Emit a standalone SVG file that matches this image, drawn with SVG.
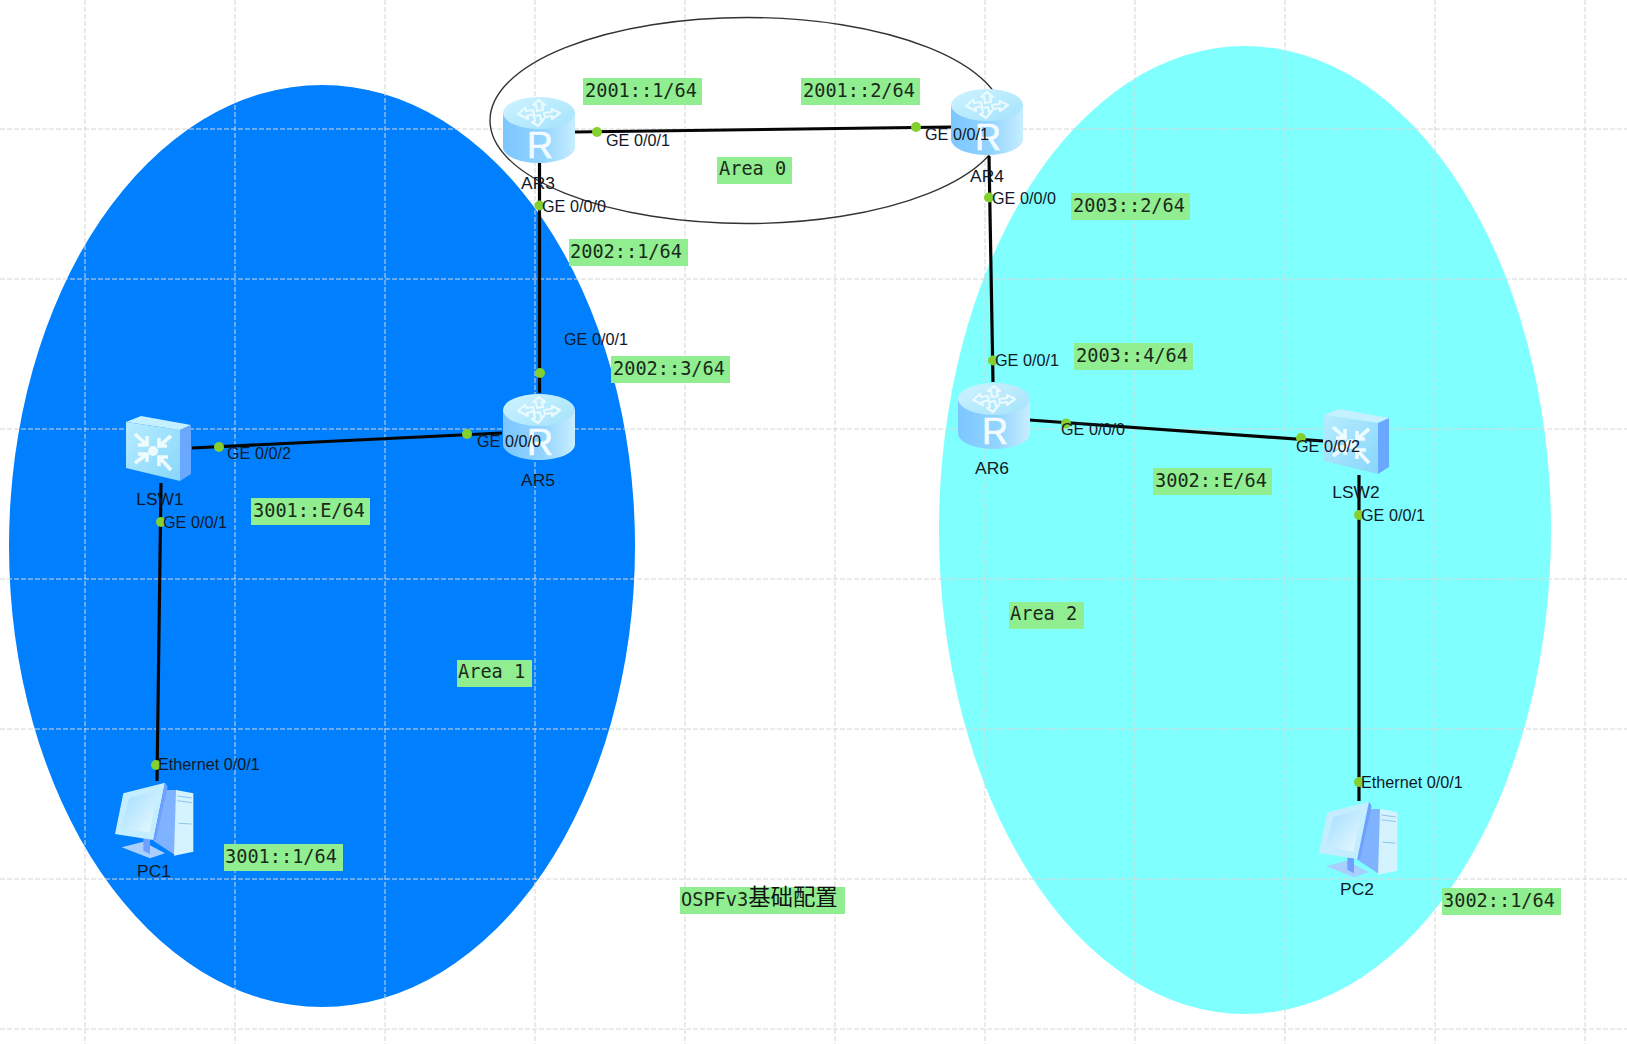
<svg xmlns="http://www.w3.org/2000/svg" width="1627" height="1044" viewBox="0 0 1627 1044">
<style>
.grid{stroke:#d6d6d6;stroke-width:1;stroke-dasharray:5 2;fill:none}
.link{stroke:#050505;stroke-width:3.2;fill:none}
.dot{fill:#84d02e}
.port{font:16.2px "Liberation Sans",Arial,sans-serif;fill:#101828}
.name{font:17.4px "Liberation Sans",Arial,sans-serif;fill:#101828;text-anchor:middle}
.tagbox{fill:#90ee90}
.tag{font:18.6px "DejaVu Sans Mono","Liberation Mono",monospace;fill:#1a2a1a}
.cjk{font:22.4px "Noto Sans CJK SC",sans-serif;fill:#101010}
.arrows{fill:none;stroke:#eafaff;stroke-width:2.2;stroke-linejoin:round}
.rletter{font:36px "Liberation Sans",Arial,sans-serif;fill:#f2fbff;stroke:#f2fbff;stroke-width:.7;text-anchor:middle}
</style>
<defs>
<linearGradient id="cyl" x1="0" x2="1" y1="0" y2="0"><stop offset="0" stop-color="#7cc6ff"/><stop offset=".55" stop-color="#92d4ff"/><stop offset="1" stop-color="#c8eeff"/></linearGradient>
<linearGradient id="cap" x1="0" x2="1" y1="0" y2="1"><stop offset="0" stop-color="#cff3ff"/><stop offset="1" stop-color="#a4e2fb"/></linearGradient>
<linearGradient id="face" x1="0" x2="1" y1="0" y2="1"><stop offset="0" stop-color="#b6ecff"/><stop offset="1" stop-color="#88d6fb"/></linearGradient>
<linearGradient id="scr" x1="0" x2="1" y1="0" y2="1"><stop offset="0" stop-color="#9fdcff"/><stop offset="1" stop-color="#eafaff"/></linearGradient>
<g id="router">
<path d="M0 16V50C0 59 16 66 36 66S72 59 72 50V16Z" fill="url(#cyl)"/>
<ellipse cx="36" cy="16" rx="36" ry="16" fill="url(#cap)"/>
<path class="arrows" d="M36 3l6 5h-3l1 5-6 1-1-6h-3zM15 17l7-6 1 3 7-1 1 4-7 2 1 3zM57 16l-8-4v3l-8 1 1 4 7-1v3zM35 29l-6-4 3-1-1-5 6-1 1 5 3-1z"/>
<text class="rletter" x="37" y="61">R</text>
</g>
<g id="switch">
<path d="M0 6L15 0 65 9 54 14Z" fill="#c4f0ff"/>
<path d="M54 14L65 9V58L54 65Z" fill="#6aa8ff"/>
<path d="M0 6L54 14V65L0 52Z" fill="url(#face)"/>
<path fill="none" stroke="#eefcff" stroke-width="3.6" d="M9 18L21 29M21 20V29H12M45 20L33 30M33 22V30H41M9 47L21 38M12 38H21V46M45 54L33 41M33 50V41H42"/>
<circle cx="27" cy="35" r="5" fill="#eefcff"/>
</g>
<g id="pc" transform="scale(.3333)">
<path d="M195 150H232L225 345 160 302Z" fill="#7fb2ff"/>
<path d="M228 150L280 160V335L222 347Z" fill="#d4f3ff"/>
<path d="M232 168L276 174M232 182L276 188M236 250L274 252" stroke="#8cc4ef" stroke-width="3" fill="none"/>
<path d="M65 322L130 305 195 340 150 355Z" fill="#a9cfff"/>
<path d="M130 295H150V343L130 332Z" fill="#6f9fff"/>
<path d="M70 160L195 128 160 300 45 282Z" fill="#c4edff"/>
<path d="M195 128L203 140 168 300H160Z" fill="#6ea0ff"/>
<path d="M88 175L175 150 148 278 65 262Z" fill="url(#scr)"/>
</g>
</defs>

<g id="areas">
<ellipse cx="322" cy="546" rx="313" ry="461" fill="#0080ff"/>
<ellipse cx="1245" cy="530" rx="306" ry="484" fill="#80ffff"/>
</g>
<g id="gridlines">
<path class="grid" d="M85 0V1044M235 0V1044M385 0V1044M535 0V1044M685 0V1044M835 0V1044M985 0V1044M1135 0V1044M1285 0V1044M1435 0V1044M1585 0V1044"/>
<path class="grid" d="M0 129H1627M0 279H1627M0 429H1627M0 579H1627M0 729H1627M0 879H1627M0 1029H1627"/>
</g>
<ellipse id="area0-outline" cx="747" cy="120.500" rx="257" ry="103" fill="none" stroke="#333" stroke-width="1.4"/>

<g id="connectors">
<path class="link" d="M575 132L951 127"/>
<path class="link" d="M539.500 163V393"/>
<path class="link" d="M989 156L993 382"/>
<path class="link" d="M502 433L192 448"/>
<path class="link" d="M1029 420L1323 441"/>
<path class="link" d="M161 483L157 781"/>
<path class="link" d="M1359 475V801"/>
<circle class="dot" cx="597" cy="132" r="5"/>
<circle class="dot" cx="916" cy="127" r="5"/>
<circle class="dot" cx="539.500" cy="205.500" r="5"/>
<circle class="dot" cx="989" cy="197.500" r="5"/>
<circle class="dot" cx="540" cy="373" r="5"/>
<circle class="dot" cx="993" cy="360.500" r="5"/>
<circle class="dot" cx="467" cy="434" r="5"/>
<circle class="dot" cx="219" cy="447" r="5"/>
<circle class="dot" cx="1066" cy="423.500" r="5"/>
<circle class="dot" cx="1301" cy="438" r="5"/>
<circle class="dot" cx="161" cy="522" r="5"/>
<circle class="dot" cx="1359" cy="515" r="5"/>
<circle class="dot" cx="156" cy="765" r="5"/>
<circle class="dot" cx="1359" cy="782" r="5"/>
</g>

<g id="AR3"><use href="#router" x="503" y="97"/><text class="name" x="538" y="189">AR3</text></g>
<g id="AR4"><use href="#router" x="951" y="89"/><text class="name" x="987" y="182">AR4</text></g>
<g id="AR5"><use href="#router" x="503" y="394"/><text class="name" x="538" y="486">AR5</text></g>
<g id="AR6"><use href="#router" x="958" y="383"/><text class="name" x="992" y="474">AR6</text></g>
<g id="LSW1"><use href="#switch" x="126" y="416"/><text class="name" x="160" y="505">LSW1</text></g>
<g id="LSW2"><use href="#switch" x="1324" y="409"/><text class="name" x="1356" y="498">LSW2</text></g>
<g id="PC1"><g transform="translate(100 740)"><use href="#pc"/></g><text class="name" x="154" y="877">PC1</text></g>
<g id="PC2"><g transform="translate(1304 759)"><use href="#pc"/></g><text class="name" x="1357" y="895">PC2</text></g>

<g id="port-labels">
<text class="port" x="606" y="146">GE 0/0/1</text>
<text class="port" x="542" y="212">GE 0/0/0</text>
<text class="port" x="925" y="140">GE 0/0/1</text>
<text class="port" x="992" y="204">GE 0/0/0</text>
<text class="port" x="564" y="345">GE 0/0/1</text>
<text class="port" x="477" y="447">GE 0/0/0</text>
<text class="port" x="995" y="366">GE 0/0/1</text>
<text class="port" x="1061" y="435">GE 0/0/0</text>
<text class="port" x="227" y="459">GE 0/0/2</text>
<text class="port" x="163" y="528">GE 0/0/1</text>
<text class="port" x="1296" y="452">GE 0/0/2</text>
<text class="port" x="1361" y="521">GE 0/0/1</text>
<text class="port" x="158" y="770">Ethernet 0/0/1</text>
<text class="port" x="1361" y="788">Ethernet 0/0/1</text>
</g>

<g id="tag-2001-1"><rect class="tagbox" x="583" y="78" width="119" height="27"/><text class="tag" x="585" y="97">2001::1/64</text></g>
<g id="tag-2001-2"><rect class="tagbox" x="801" y="78" width="119" height="27"/><text class="tag" x="803" y="97">2001::2/64</text></g>
<g id="tag-area0"><rect class="tagbox" x="717" y="157" width="75" height="27"/><text class="tag" x="719" y="175">Area 0</text></g>
<g id="tag-2002-1"><rect class="tagbox" x="569" y="239" width="119" height="27"/><text class="tag" x="570" y="258">2002::1/64</text></g>
<g id="tag-2003-2"><rect class="tagbox" x="1071" y="193" width="119" height="27"/><text class="tag" x="1073" y="212">2003::2/64</text></g>
<g id="tag-2002-3"><rect class="tagbox" x="611" y="356" width="119" height="27"/><text class="tag" x="613" y="375">2002::3/64</text></g>
<g id="tag-2003-4"><rect class="tagbox" x="1074" y="343" width="119" height="27"/><text class="tag" x="1076" y="362">2003::4/64</text></g>
<g id="tag-3001-E"><rect class="tagbox" x="251" y="498" width="119" height="27"/><text class="tag" x="253" y="517">3001::E/64</text></g>
<g id="tag-3002-E"><rect class="tagbox" x="1153" y="468" width="119" height="27"/><text class="tag" x="1155" y="487">3002::E/64</text></g>
<g id="tag-area1"><rect class="tagbox" x="457" y="660" width="75" height="27"/><text class="tag" x="458" y="678">Area 1</text></g>
<g id="tag-area2"><rect class="tagbox" x="1009" y="602" width="75" height="27"/><text class="tag" x="1010" y="620">Area 2</text></g>
<g id="tag-3001-1"><rect class="tagbox" x="224" y="844" width="119" height="27"/><text class="tag" x="225" y="863">3001::1/64</text></g>
<g id="tag-3002-1"><rect class="tagbox" x="1442" y="888" width="119" height="27"/><text class="tag" x="1443" y="907">3002::1/64</text></g>
<g id="tag-title"><rect class="tagbox" x="680" y="887" width="165" height="27"/><text class="tag" x="681" y="906">OSPFv3<tspan class="cjk" dy="-1">基础配置</tspan></text></g>
</svg>
